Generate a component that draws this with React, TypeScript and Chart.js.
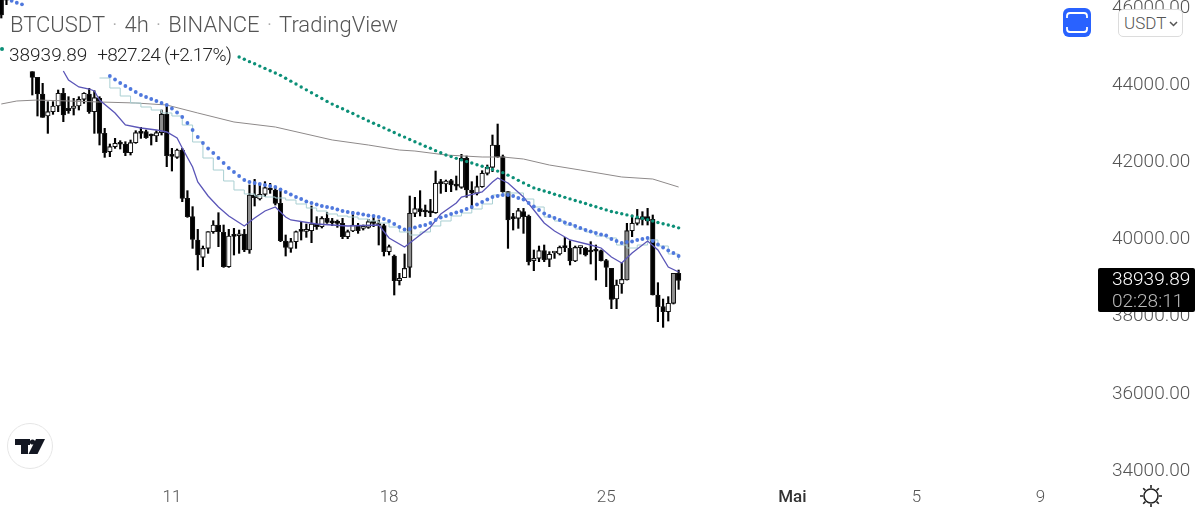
import React, { useEffect, useRef } from "react";
import { Chart, registerables } from "chart.js";

Chart.register(...registerables);

const symbolParts = ["BTCUSDT", "4h", "BINANCE", "TradingView"];
const lastPrice = "38939.89";
const changeText = "+827.24 (+2.17%)";
const countdown = "02:28:11";
const currency = "USDT";

const earlyIdx = [-6, -5];
const earlyOpens = [46300, 46200];
const earlyCloses = [45813, 46300];
const earlyHighs = [46400, 46400];
const earlyLows = [45735, 46080];

const opens = [44345,44198,43767,43197,43309,43456,43784,43395,43395,43456,
43628,43767,43309,43654,42748,42273,42402,42480,42472,42247,
42506,42774,42791,42696,42679,42765,43240,42165,42126,42316,
41064,40590,39985,39536,39769,40201,40374,40184,39295,40089,
40095,40141,39726,41151,41047,41168,41323,41280,40935,39959,
39769,39942,40218,40210,40226,40400,40331,40546,40443,40425,
40417,40072,40218,40374,40287,40313,40425,40370,40356,39683,
39571,38932,39010,39277,40676,40797,40719,40700,40693,41453,
41435,41522,41390,41349,42100,41280,41194,41366,41712,41867,
42446,42143,41237,40550,40546,40719,40607,39450,39510,39709,
39484,39650,39623,39800,39769,39441,39790,39769,39690,39705,
39709,39450,39251,38457,38846,38949,40227,40417,40589,40589,
40520,38561,38259,38129,38345,39122];
const closes = [44198,43767,43162,43309,43456,43784,43223,43335,43456,43628,
43784,43309,43672,42748,42247,42402,42489,42465,42247,42506,
42765,42748,42636,42679,42765,43240,42169,42150,42316,41064,
40590,40003,39597,39769,40201,40374,40201,39295,40089,40080,
40115,39726,41151,41082,41168,41341,41280,40935,39968,39795,
39942,40201,40210,40226,40400,40331,40546,40443,40430,40417,
40072,40201,40374,40226,40331,40460,40417,40360,39683,39813,
38932,38992,39251,40676,40797,40719,40710,40690,41453,41445,
41513,41410,41380,42100,41280,41211,41366,41712,41867,42446,
42143,41237,40503,40540,40745,40589,39424,39510,39709,39467,
39614,39660,39795,39790,39450,39795,39800,39597,39675,39695,
39450,39277,38448,38820,38966,40227,40417,40546,40520,40477,
38561,38259,38129,38345,39122,38939.89];
const highs = [44345,44198,44043,43568,43568,43870,43913,43697,43654,43697,
43801,43913,43853,43697,42877,42472,42618,42558,42532,42575,
42817,42903,42834,42731,42817,43352,43482,42359,42342,42359,
41263,40849,40261,39830,40201,40486,40693,40374,40261,40287,
40244,40261,41410,41556,41453,41496,41453,41367,41323,40115,
40028,40218,40443,40400,40866,40590,40590,40702,40546,40503,
40546,40244,40719,40417,40374,40520,40590,40503,40400,39856,
39597,39122,39623,41125,41090,41263,40892,41038,41772,41556,
41539,41556,41643,42204,42161,41496,41643,41781,41928,42705,
42989,42187,41237,40676,40805,40805,40633,39726,39830,39856,
39683,39683,39830,40054,39968,39830,39830,39795,39942,39856,
39726,39484,39251,38949,39398,40417,40633,40779,40719,40805,
40633,38880,38457,38518,39122,39208];
const lows = [43741,43197,43162,42748,43240,43309,43050,43266,43223,43352,
43525,43266,42748,42446,42126,42143,42359,42342,42169,42187,
42489,42618,42618,42446,42532,42705,41884,41772,42100,40978,
40572,39769,39208,39295,39640,40158,39813,39277,39277,39597,
39640,39683,39640,40866,41021,41108,41194,40892,39942,39571,
39666,39769,39985,40054,39916,40261,40296,40417,40356,40313,
40020,40020,40201,40158,40244,40287,40331,39856,39571,39597,
38561,38820,39010,39018,40589,40607,40589,40589,40676,41194,
41237,41237,41280,41323,41090,40805,41151,41349,41669,41755,
42126,41220,39769,40244,40287,40158,39338,39191,39424,39424,
39294,39510,39597,39683,39338,39424,39623,39571,39364,38949,
39441,38777,38207,38207,38604,38949,40071,40374,40374,40374,
38561,37870,37723,37887,38328,38707];
const greyBodies = [25, 42, 73, 115, 124];

const grayIdx = [-6,-3,1,7,13,20,26,32,39,47,58,65,71,74,80,87,91,95,100,106,114,120,125];
const grayValues = [43508,43586,43611,43586,43560,43534,43482,43275,43042,42912,42576,42446,42316,42290,42187,42135,42135,42083,41928,41798,41617,41565,41358];

const purpleIdx = [6,7,9,11,12,13,16,18,21,24,26,28,29,31,32,34,36,38,41,43,45,47,49,50,55,61,67,69,72,74,77,79,82,83,87,89,90,92,95,97,99,101,104,108,110,112,114,116,119,121,123,125];
const purpleValues = [44363,44130,43948,43896,43845,43611,43275,42964,42886,42835,42783,42627,42368,41876,41488,41125,40840,40607,40348,40555,40737,40840,40581,40504,40400,40348,40374,40037,39804,40011,40322,40659,40944,41099,41229,41488,41591,41462,41099,40763,40426,40219,39986,39856,39779,39545,39390,39649,39960,39727,39286,39157];

const paleStart = 13;
const paleValues = [44181,43922,43715,43534,43430,43352,43275,43197,42964,42524,42109,41798,41514,41281,41177,41125,41099,41073,41021,40918,40814,40736,40659,40607,40581,40529,40478,40426,40322,40193,40115,40193,40348,40478,40607,40685,40788,40918,41151,41203,41203,41047,40840,40581,40478,40374,40270,40193,40089,40037,39856,39778,39856,39986,39830,39623,39467];

const blueEarlyIdx = [-4,-3,-2];
const blueEarlyValues = [46180,46130,46090];
const blueStart = 15;
const blueValues = [44233,44142,44052,43974,43896,43819,43741,43689,43637,43586,43534,43482,43391,43288,43171,43016,42834,42653,42498,42355,42239,42109,41980,41850,41747,41643,41540,41488,41462,41436,41410,41384,41358,41293,41229,41164,41099,41047,40983,40944,40905,40866,40840,40814,40775,40736,40711,40685,40672,40646,40620,40607,40581,40529,40478,40400,40322,40258,40271,40309,40348,40374,40426,40503,40568,40607,40659,40698,40736,40788,40840,40905,40970,41035,41099,41125,41151,41151,41125,41073,41035,40944,40853,40762,40672,40607,40555,40503,40439,40400,40348,40296,40244,40206,40167,40128,40102,40012,39960,39908,39934,39947,39986,40012,40037,39960,39869,39791,39714,39649,39571];

const greenStart = 40;
const greenValues = [44725,44665,44605,44550,44490,44430,44370,44310,44250,44175,44100,44025,43950,43875,43800,43725,43650,43575,43505,43445,43385,43320,43260,43195,43135,43070,43010,42950,42890,42830,42770,42705,42650,42590,42530,42475,42415,42360,42300,42245,42187,42145,42100,42060,42020,41980,41935,41895,41855,41810,41770,41730,41665,41600,41530,41465,41400,41335,41295,41255,41215,41170,41130,41090,41050,41010,40970,40930,40885,40845,40805,40765,40725,40695,40665,40635,40605,40575,40545,40510,40475,40440,40405,40375,40340,40300];

const priceTicks = [34000, 36000, 38000, 40000, 42000, 44000, 46000];
const dayTickIdx = [27, 69, 111, 147, 171, 195];
const dayTickLabels = ["11", "18", "25", "Mai", "5", "9"];

const FONT = 'Roboto, "Liberation Sans", Arial, sans-serif';
const W = 300;

export default function App() {
  const ref = useRef<HTMLCanvasElement>(null);
  useEffect(() => {
    document.body.style.margin = "0";
    const allIdx = [...earlyIdx, ...opens.map((_, i) => i)];
    const allO = [...earlyOpens, ...opens];
    const allC = [...earlyCloses, ...closes];
    const allH = [...earlyHighs, ...highs];
    const allL = [...earlyLows, ...lows];
    const series = (start: number, vals: number[], step = 1) => vals.map((y, i) => ({ x: start + i * step, y }));
    const pairs = (xs: number[], ys: number[]) => xs.map((x, i) => ({ x, y: ys[i] }));
    const chart = new Chart(ref.current!, {
      type: "bar",
      data: {
        datasets: [
          {
            type: "bar", order: 6, grouped: false, barThickness: 1.5,
            data: allIdx.map((x, i) => ({ x, y: [allL[i], allH[i]] })),
            backgroundColor: "#000", borderWidth: 0,
          },
          {
            type: "bar", order: 5, grouped: false, barThickness: 4.6, minBarLength: 2,
            data: allIdx.map((x, i) => ({ x, y: [allO[i], allC[i]] })),
            backgroundColor: allIdx.map((x, i) => (greyBodies.includes(x) ? "#8f8f8f" : allC[i] >= allO[i] ? "#ffffff" : "#000000")),
            borderColor: "#111", borderWidth: 1.1, borderSkipped: false,
          },
          {
            type: "line", order: 4, data: pairs(grayIdx, grayValues),
            borderColor: "#8e8a8a", borderWidth: 1, pointRadius: 0, tension: 0,
          },
          {
            type: "line", order: 3, data: series(paleStart, paleValues, 2), stepped: true,
            borderColor: "#a9cfd2", borderWidth: 1, pointRadius: 0,
          },
          {
            type: "line", order: 2, data: pairs(purpleIdx, purpleValues),
            borderColor: "#5b56b8", borderWidth: 1.3, pointRadius: 0, tension: 0,
          },
          {
            type: "line", order: 1, showLine: false,
            data: [...pairs(blueEarlyIdx, blueEarlyValues), ...series(blueStart, blueValues)],
            pointRadius: 1.9, pointBackgroundColor: "#4f78dd", pointBorderWidth: 0,
          },
          {
            type: "line", order: 0, showLine: false, data: series(greenStart, greenValues),
            pointRadius: 1.7, pointBackgroundColor: "#0b8f77", pointBorderWidth: 0,
          },
        ],
      } as any,
      options: {
        responsive: false,
        animation: false,
        layout: { padding: 0, autoPadding: false },
        plugins: { legend: { display: false }, tooltip: { enabled: false } },
        scales: {
          x: {
            type: "linear", min: -6.25, max: 206.5, offset: false,
            grid: { display: false, drawTicks: false }, border: { display: false },
            afterBuildTicks: (axis: any) => { axis.ticks = dayTickIdx.map((value) => ({ value })); },
            afterFit: (axis: any) => { axis.height = 30; axis.paddingLeft = 0; axis.paddingRight = 0; },
            ticks: {
              autoSkip: false, maxRotation: 0, padding: 4,
              callback: (v: any) => dayTickLabels[dayTickIdx.indexOf(Number(v))] ?? "",
              font: (ctx: any) => ({ family: FONT, size: 17, weight: ctx.tick?.value === 147 ? "500" : "300" }),
              color: (ctx: any) => (ctx.tick?.value === 147 ? "#333" : "#555"),
            },
          },
          y: {
            type: "linear", position: "right", min: 33666, max: 46201.5,
            grid: { display: false, drawTicks: false }, border: { display: false },
            afterBuildTicks: (axis: any) => { axis.ticks = priceTicks.map((value) => ({ value })); },
            afterFit: (axis: any) => { axis.width = 100; axis.paddingTop = 0; axis.paddingBottom = 0; },
            ticks: {
              padding: 12, color: "#555",
              font: { family: FONT, size: 19, weight: W },
              callback: (v: any) => Number(v).toFixed(2),
            },
          },
        },
      } as any,
    });
    return () => chart.destroy();
  }, []);

  const abs = (s: React.CSSProperties): React.CSSProperties => ({ position: "absolute", fontFamily: FONT, fontWeight: W, ...s });
  return (
    <div style={{ position: "relative", width: 1200, height: 514, overflow: "hidden", background: "#fff" }}>
      <canvas ref={ref} width={1200} height={514} style={{ display: "block" }} />
      <div style={abs({ left: 4, top: 7, width: 400, height: 33, background: "#fff" })} />
      <div style={abs({ left: 10, top: 11, fontSize: 22, lineHeight: "28px", color: "#555", whiteSpace: "nowrap", display: "flex" })}>
        {symbolParts.map((p, i) => (
          <span key={p}>{i > 0 ? <span style={{ color: "#aaa", margin: "0 7px" }}>·</span> : null}{p}</span>
        ))}
      </div>
      <div style={abs({ left: 0, top: 40, width: 236, height: 30, background: "#fff" })} />
      <div style={abs({ left: 0, top: 47, width: 4, height: 4, borderRadius: 2, background: "#0b8f77" })} />
      <div style={abs({ left: 9, top: 43, fontSize: 19, lineHeight: "24px", color: "#222", whiteSpace: "nowrap" })}>{lastPrice}<span style={{ marginLeft: 10, letterSpacing: -0.75 }}>{changeText}</span></div>

      <div style={abs({ left: 1063, top: 8, width: 28, height: 29, borderRadius: 6, background: "#2962ff" })}>
        <svg width="28" height="29" viewBox="0 0 28 29" fill="none" stroke="#fff" strokeWidth="1.8">
          <path d="M4 10V8a3 3 0 0 1 3-3h14a3 3 0 0 1 3 3v2M4 19v2a3 3 0 0 0 3 3h14a3 3 0 0 0 3-3v-2" />
        </svg>
      </div>
      <div style={abs({ left: 1118, top: 9, width: 65, height: 28, boxSizing: "border-box", border: "1px solid #dcdcdc", borderRadius: 5, background: "#fff", color: "#555", fontSize: 17, lineHeight: "26px", paddingLeft: 5, whiteSpace: "nowrap" })}>
        {currency}
        <svg width="9" height="6" viewBox="0 0 9 6" style={{ marginLeft: 3, verticalAlign: 2 }} fill="none" stroke="#555" strokeWidth="1.5"><path d="M1 1l3.5 3.5L8 1" /></svg>
      </div>

      <div style={abs({ left: 1098, top: 268, width: 97, height: 44, background: "#000", borderRadius: 2, paddingLeft: 14, boxSizing: "border-box", fontSize: 19, lineHeight: "23px", color: "#fff" })}>
        <div style={{ marginTop: -1 }}>{lastPrice}</div>
        <div style={{ color: "#bbb", marginTop: -1 }}>{countdown}</div>
      </div>

      <div style={abs({ left: 7, top: 423, width: 46, height: 46, boxSizing: "border-box", border: "1px solid #e6e6e6", borderRadius: 23, background: "#fff" })}>
        <svg width="44" height="44" viewBox="0 0 44 44" fill="#131722" style={{ display: "block" }}>
          <path d="M7 15h15v6h-2v9h-7v-9H7zM28 15h9l-7.5 15h-9z" />
          <circle cx="24.5" cy="18" r="2.6" />
        </svg>
      </div>

      <svg width="24" height="24" viewBox="0 0 24 24" style={abs({ left: 1139, top: 484 })} fill="none" stroke="#222" strokeWidth="1.6">
        <circle cx="12" cy="12" r="7" />
        <path d="M12 1v3M12 20v3M1 12h3M20 12h3M4.2 4.2l2.2 2.2M17.6 17.6l2.2 2.2M4.2 19.8l2.2-2.2M17.6 6.4l2.2-2.2" />
      </svg>
    </div>
  );
}
